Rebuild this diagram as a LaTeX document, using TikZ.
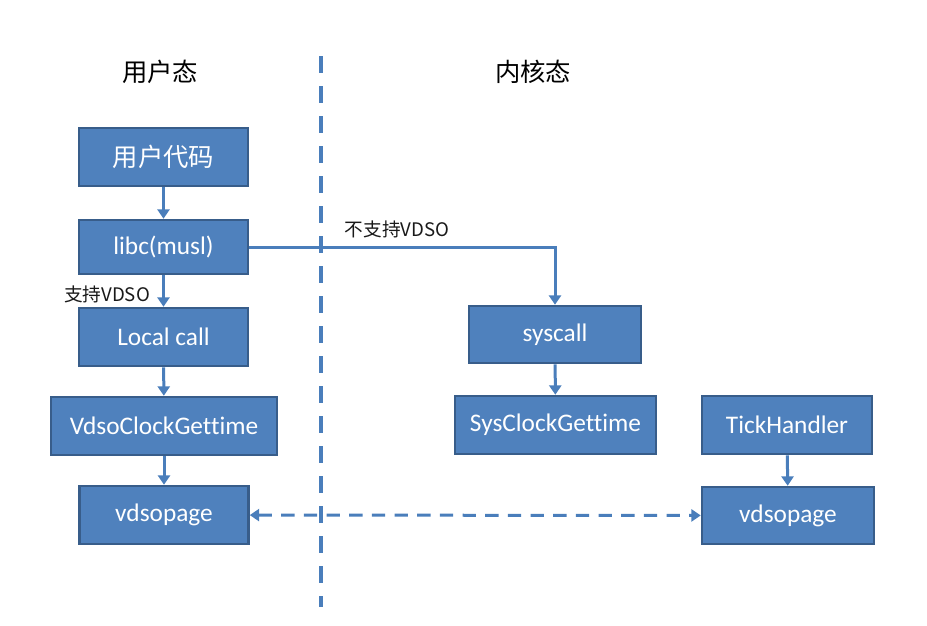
\documentclass[tikz,border=0pt]{standalone}
\usepackage{fontspec}
\setmainfont[Ligatures=NoCommon]{Carlito}
\newfontfamily\cjk{Noto Sans CJK SC}
\usetikzlibrary{arrows.meta,positioning}
\definecolor{boxfill}{HTML}{4F81BD}
\definecolor{boxedge}{HTML}{385D8A}
\definecolor{linkblue}{HTML}{4A7EBB}

\begin{document}
\begin{tikzpicture}[x=0.75pt,y=-0.75pt,>={Triangle[width=9pt,length=7pt]},
  blk/.style={draw=boxedge,line width=1.9pt,fill=boxfill,text=white,inner sep=0pt,
    minimum width=126.75pt,minimum height=43.5pt,font=\fontsize{19}{22}\selectfont},
  link/.style={->,draw=linkblue,line width=2.25pt},
  lbl/.style={font=\cjk\fontsize{14}{16}\selectfont,text=black!90}]
  \useasboundingbox (0,0) rectangle (927,625);
  % titles and the user/kernel border
  \node[font=\cjk\fontsize{19}{22}\selectfont] (usr) at (160,72) {用户态};
  \node[font=\cjk\fontsize{19}{22}\selectfont] (krn) at (533,72) {内核态};
  \coordinate (bt) at (321,56); \coordinate (bb) at (321,607);
  \draw[linkblue,line width=3pt,dash pattern=on 12.75pt off 9.75pt] (bt) -- (bb);
  % user side
  \node[blk] (code) at (163.5,157) {\cjk 用户代码};
  \node[blk,minimum height=40.5pt] (libc) at (163.5,247) {libc(musl)};
  \node[blk] (local) at (163.5,337) {Local call};
  \node[blk,minimum width=169.5pt] (vclk) at (164,426) {VdsoClockGettime};
  \node[blk] (upage) at (164,515) {vdsopage};
  % kernel side
  \node[blk,minimum width=129pt,minimum height=42.75pt] (sysc) at (555,334.5) {syscall};
  \node[blk,minimum width=150.75pt] (sclk) at (555.5,425) {SysClockGettime};
  \node[blk,minimum width=127.5pt] (tick) at (787,425) {TickHandler};
  \node[blk,minimum width=129pt,minimum height=42.75pt] (kpage) at (788,515.5) {vdsopage};
  % labels
  \node[lbl] (yes) at (107,294) {支持VDSO};
  \node[lbl] (no) at (397,229) {不支持VDSO};
  % connectors
  \draw[link] (code) -- (libc);
  \draw[link] (libc) -- (local);
  \draw[link] (local) -- (vclk);
  \draw[link] (vclk) -- (upage);
  \draw[link] (libc.east) -| (sysc.north);
  \draw[link] (sysc) -- (sclk);
  \draw[link] (tick) -- (kpage);
  \draw[<->,draw=linkblue,line width=2.25pt,dash pattern=on 10pt off 7pt] (upage) -- (kpage);
\end{tikzpicture}
\end{document}
